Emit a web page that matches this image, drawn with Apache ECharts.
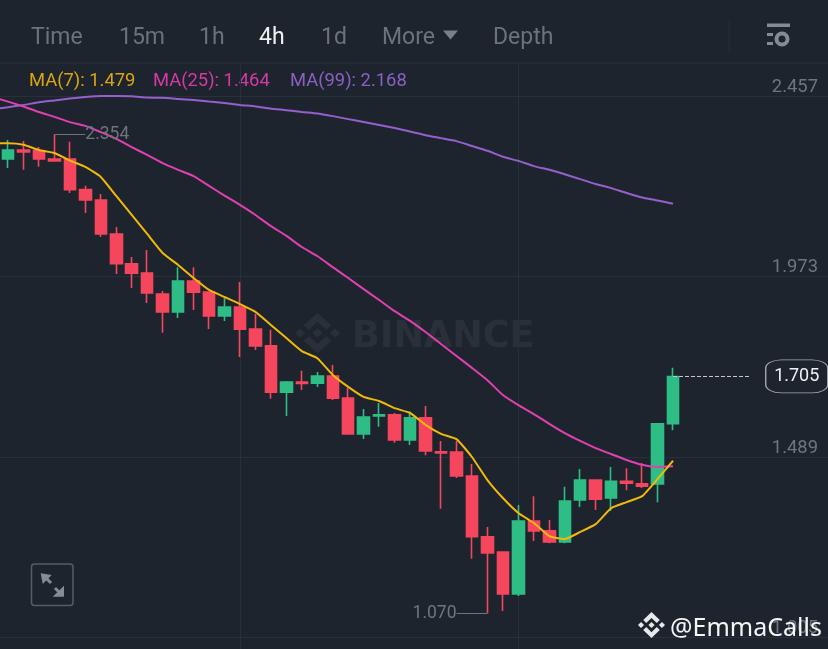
<!DOCTYPE html>
<html>
<head>
<meta charset="utf-8">
<style>
html,body{margin:0;padding:0;background:#1e242e;}
#myChart{width:828px;height:649px;}
</style>
<script src="https://cdn.jsdelivr.net/npm/echarts@6/dist/echarts.min.js"></script>
</head>
<body>
<div id="myChart"></div>
<script>
// [open, close, low, high]
const candles = [
    [2.288,2.312,2.264,2.339],[2.312,2.307,2.259,2.336],[2.310,2.288,2.267,2.320],[2.288,2.283,2.283,2.354],
    [2.288,2.206,2.197,2.334],[2.206,2.178,2.143,2.216],[2.178,2.087,2.079,2.194],[2.087,2.007,1.980,2.106],
    [2.007,1.982,1.942,2.025],[1.982,1.929,1.902,2.044],[1.926,1.878,1.822,1.934],[1.878,1.961,1.862,1.998],
    [1.961,1.931,1.883,1.998],[1.931,1.867,1.832,1.931],[1.867,1.891,1.854,1.915],[1.891,1.832,1.757,1.958],
    [1.832,1.787,1.776,1.873],[1.787,1.663,1.645,1.830],[1.663,1.690,1.599,1.693],[1.690,1.686,1.669,1.720],
    [1.687,1.706,1.677,1.717],[1.706,1.647,1.642,1.736],[1.647,1.551,1.551,1.674],[1.551,1.596,1.537,1.618],
    [1.599,1.602,1.570,1.634],[1.602,1.535,1.527,1.607],[1.535,1.594,1.521,1.612],[1.594,1.505,1.494,1.626],
    [1.503,1.500,1.350,1.532],[1.502,1.438,1.433,1.532],[1.438,1.275,1.216,1.470],[1.275,1.232,1.070,1.301],
    [1.234,1.122,1.076,1.234],[1.122,1.317,1.116,1.360],[1.317,1.291,1.264,1.384],[1.291,1.261,1.258,1.320],
    [1.261,1.371,1.258,1.409],[1.374,1.427,1.355,1.457],[1.427,1.376,1.347,1.427],[1.379,1.424,1.344,1.462],
    [1.424,1.419,1.400,1.459],[1.417,1.411,1.406,1.473],[1.417,1.578,1.368,1.580],[1.578,1.705,1.561,1.728]
];
// moving averages start one slot before the first candle, they run off the left edge
const ma7 = [2.330,2.330,2.326,2.312,2.304,2.284,2.267,2.240,2.189,2.138,2.087,2.036,2.004,1.969,1.937,1.918,1.899,1.878,
    1.843,1.808,1.773,1.754,1.709,1.677,1.650,1.639,1.620,1.607,1.575,1.551,1.537,1.489,1.427,1.379,1.339,1.312,1.277,
    1.269,1.288,1.309,1.352,1.368,1.384,1.430,1.479];
const ma25 = [2.454,2.442,2.429,2.414,2.401,2.387,2.377,2.360,2.342,2.320,2.299,2.277,2.259,2.242,2.216,2.190,2.165,2.138,
    2.108,2.082,2.052,2.028,1.998,1.969,1.939,1.910,1.880,1.854,1.824,1.792,1.760,1.728,1.695,1.655,1.628,1.604,1.578,
    1.553,1.532,1.513,1.497,1.481,1.468,1.462,1.464];
const ma99 = [2.421,2.427,2.433,2.440,2.445,2.450,2.454,2.457,2.457,2.456,2.453,2.452,2.449,2.446,2.442,2.438,2.433,2.429,
    2.423,2.419,2.414,2.410,2.403,2.395,2.387,2.379,2.371,2.362,2.352,2.344,2.336,2.323,2.310,2.294,2.283,2.269,2.259,
    2.247,2.234,2.221,2.210,2.197,2.185,2.177,2.168];
const priceTicks = [1.005,1.489,1.973,2.457];
const lastPrice = 1.705;
const highPrice = 2.354;
const lowPrice = 1.070;
const menuItems = [['Time',31],['15m',119],['1h',199],['4h',259],['1d',321],['More',382],['Depth',493]];

const BG = '#1e242e', GRID = '#2a3039', GREY = '#6f757e', FONT = 'Roboto';
// exchange logo outline, 126.6 units square
const LOGO_PARTS = [
    [[38.73,53.2],[63.32,28.62],[87.92,53.22],[102.22,38.91],[63.32,0],[24.42,38.9]],
    [[0,63.31],[14.3,49],[28.61,63.31],[14.3,77.61]],
    [[38.73,73.41],[63.32,98],[87.92,73.4],[102.23,87.69],[63.33,126.6],[24.42,87.72]],
    [[98,63.31],[112.3,49],[126.61,63.31],[112.31,77.61]],
    [[77.83,63.3],[63.32,48.78],[48.81,63.28],[63.32,77.78]]
];

const categories = [];
for (let i = 0; i < 55; i++) categories.push('k' + i);

function txt(x, y, text, size, fill, extra) {
    return Object.assign({
        type: 'text', x: x, y: y, silent: true,
        style: {text: text, fontSize: size, fontFamily: FONT, fill: fill, verticalAlign: 'middle'}
    }, extra || {});
}
function poly(points, fill, z) {
    return {type: 'polygon', silent: true, z: z || 0, shape: {points: points}, style: {fill: fill}};
}
function logo(x, y, w, h, fill, z) {
    return LOGO_PARTS.map(part => poly(part.map(p => [x + p[0] / 126.61 * w, y + p[1] / 126.6 * h]), fill, z));
}
function seg(x1, y1, x2, y2, color, w) {
    return {type: 'line', silent: true, shape: {x1: x1, y1: y1, x2: x2, y2: y2}, style: {stroke: color, lineWidth: w}};
}

const graphics = [
    seg(0, 63, 828, 63, GRID, 1),
    seg(729, 20, 729, 53, '#262c35', 1),
    // settings icon
    {type: 'rect', silent: true, shape: {x: 767, y: 23.5, width: 23, height: 3.5}, style: {fill: '#858b94'}},
    {type: 'rect', silent: true, shape: {x: 767, y: 33, width: 6, height: 3}, style: {fill: '#858b94'}},
    {type: 'rect', silent: true, shape: {x: 767, y: 42, width: 6, height: 3}, style: {fill: '#858b94'}},
    {type: 'circle', silent: true, shape: {cx: 782, cy: 39, r: 5.5}, style: {fill: 'none', stroke: '#858b94', lineWidth: 4}},
    // expand button
    {type: 'rect', silent: true, shape: {x: 31.5, y: 564, width: 41.5, height: 41.5, r: 3}, style: {fill: 'none', stroke: '#565c66', lineWidth: 1.5}},
    poly([[40.7,573.3],[51.7,575],[42.7,584]], '#868c95'),
    seg(46, 578, 51, 583, '#868c95', 3),
    poly([[64,585.7],[64,596.7],[52.7,596.7]], '#868c95'),
    seg(55, 588, 60, 593, '#868c95', 3),
    // dropdown mark
    poly([[443,30.5],[458,30.5],[450.5,39.5]], '#7a808a'),
    // watermark
    ...logo(295, 313, 45, 40, '#2a3039', 0),
    txt(352, 338, 'BINANCE', 36.5, '#2a3039', {z: 0, style: {text: 'BINANCE', fontSize: 36.5, fontWeight: 'bold', fontFamily: 'DejaVu Sans', fill: '#2a3039', verticalAlign: 'middle'}}),
    // legend
    txt(29, 81, 'MA(7): ' + ma7[ma7.length - 1], 18.4, '#d9a612'),
    txt(153, 81, 'MA(25): ' + ma25[ma25.length - 1], 18.4, '#d43aa6'),
    txt(290, 81, 'MA(99): ' + ma99[ma99.length - 1], 18.4, '#8a60c2'),
    // credit
    ...logo(638, 612, 27, 26, '#e8e9ea', 100),
    txt(670, 629, '@EmmaCalls', 25, '#f4f5f5', {z: 100, style: {text: '@EmmaCalls', fontSize: 25, fontFamily: 'Noto Sans', fill: '#f4f5f5', verticalAlign: 'middle'}})
];
menuItems.forEach(item => {
    const active = item[0] === '4h';
    graphics.push(txt(item[1], 38, item[0], 23, active ? '#eef0f2' : '#6c727c'));
});

function extremeLine(fromIdx, toIdx, price) {
    return [
        {coord: [categories[fromIdx], price],
         lineStyle: {color: GREY, width: 1, type: 'solid'},
         label: {show: true, position: 'end', distance: 0, formatter: price.toFixed(3), color: GREY, fontSize: 17.5, fontFamily: FONT}},
        {coord: [categories[toIdx], price]}
    ];
}

const myChart = echarts.init(document.getElementById('myChart'));
myChart.setOption({
    backgroundColor: BG,
    animation: false,
    graphic: {elements: graphics},
    grid: {left: -15.2, top: 65, width: 850.6, height: 584, outerBoundsMode: 'none'},
    xAxis: {
        type: 'category',
        data: categories,
        axisLine: {show: false},
        axisTick: {show: false},
        axisLabel: {show: false},
        splitLine: {show: false}
    },
    yAxis: {
        type: 'value',
        position: 'right',
        min: 0.9742,
        max: 2.5401,
        axisLine: {show: false},
        axisTick: {show: false, customValues: priceTicks},
        axisLabel: {
            inside: true,
            customValues: priceTicks,
            margin: 17.4,
            verticalAlign: 'bottom',
            color: GREY,
            fontSize: 18.4,
            fontFamily: FONT,
            formatter: v => v.toFixed(3)
        },
        splitLine: {show: true, lineStyle: {color: GRID, width: 1}}
    },
    series: [
        {
            // vertical time grid lines, kept under the candles
            type: 'line', data: [], z: 1, silent: true,
            markLine: {
                silent: true, symbol: 'none', animation: false, z: 1,
                lineStyle: {color: GRID, width: 1, type: 'solid'},
                label: {show: false},
                data: [{xAxis: categories[16]}, {xAxis: categories[34]}]
            }
        },
        {
            type: 'candlestick',
            z: 2,
            barWidth: 12,
            data: [['-','-','-','-']].concat(candles),
            itemStyle: {color: '#2ebd85', color0: '#f6465d', borderColor: '#2ebd85', borderColor0: '#f6465d', borderWidth: 1.6},
            markLine: {
                silent: true, symbol: 'none', animation: false,
                data: [
                    extremeLine(4, 6, highPrice),
                    extremeLine(32, 30, lowPrice),
                    [
                        {coord: [categories[44], lastPrice], lineStyle: {color: '#c4c8cd', width: 1, type: 'dashed'}, label: {show: false}},
                        {coord: [categories[49], lastPrice]}
                    ]
                ]
            },
            markPoint: {
                silent: true, animation: false,
                data: [{
                    coord: [categories[52], lastPrice],
                    symbol: 'roundRect',
                    symbolSize: [62, 33],
                    itemStyle: {color: BG, borderColor: '#a8acb2', borderWidth: 1},
                    label: {show: true, position: 'inside', formatter: lastPrice.toFixed(3), color: '#eef0f2', fontSize: 18, fontFamily: FONT}
                }]
            }
        },
        {type: 'line', data: ma99, symbol: 'none', smooth: 0.15, z: 3, lineStyle: {color: '#9560cc', width: 2}},
        {type: 'line', data: ma25, symbol: 'none', smooth: 0.15, z: 3, lineStyle: {color: '#e040b0', width: 2}},
        {type: 'line', data: ma7, symbol: 'none', smooth: 0.15, z: 3, lineStyle: {color: '#f0b90b', width: 2}}
    ]
});

window.addEventListener('resize', myChart.resize);
</script>
</body>
</html>
